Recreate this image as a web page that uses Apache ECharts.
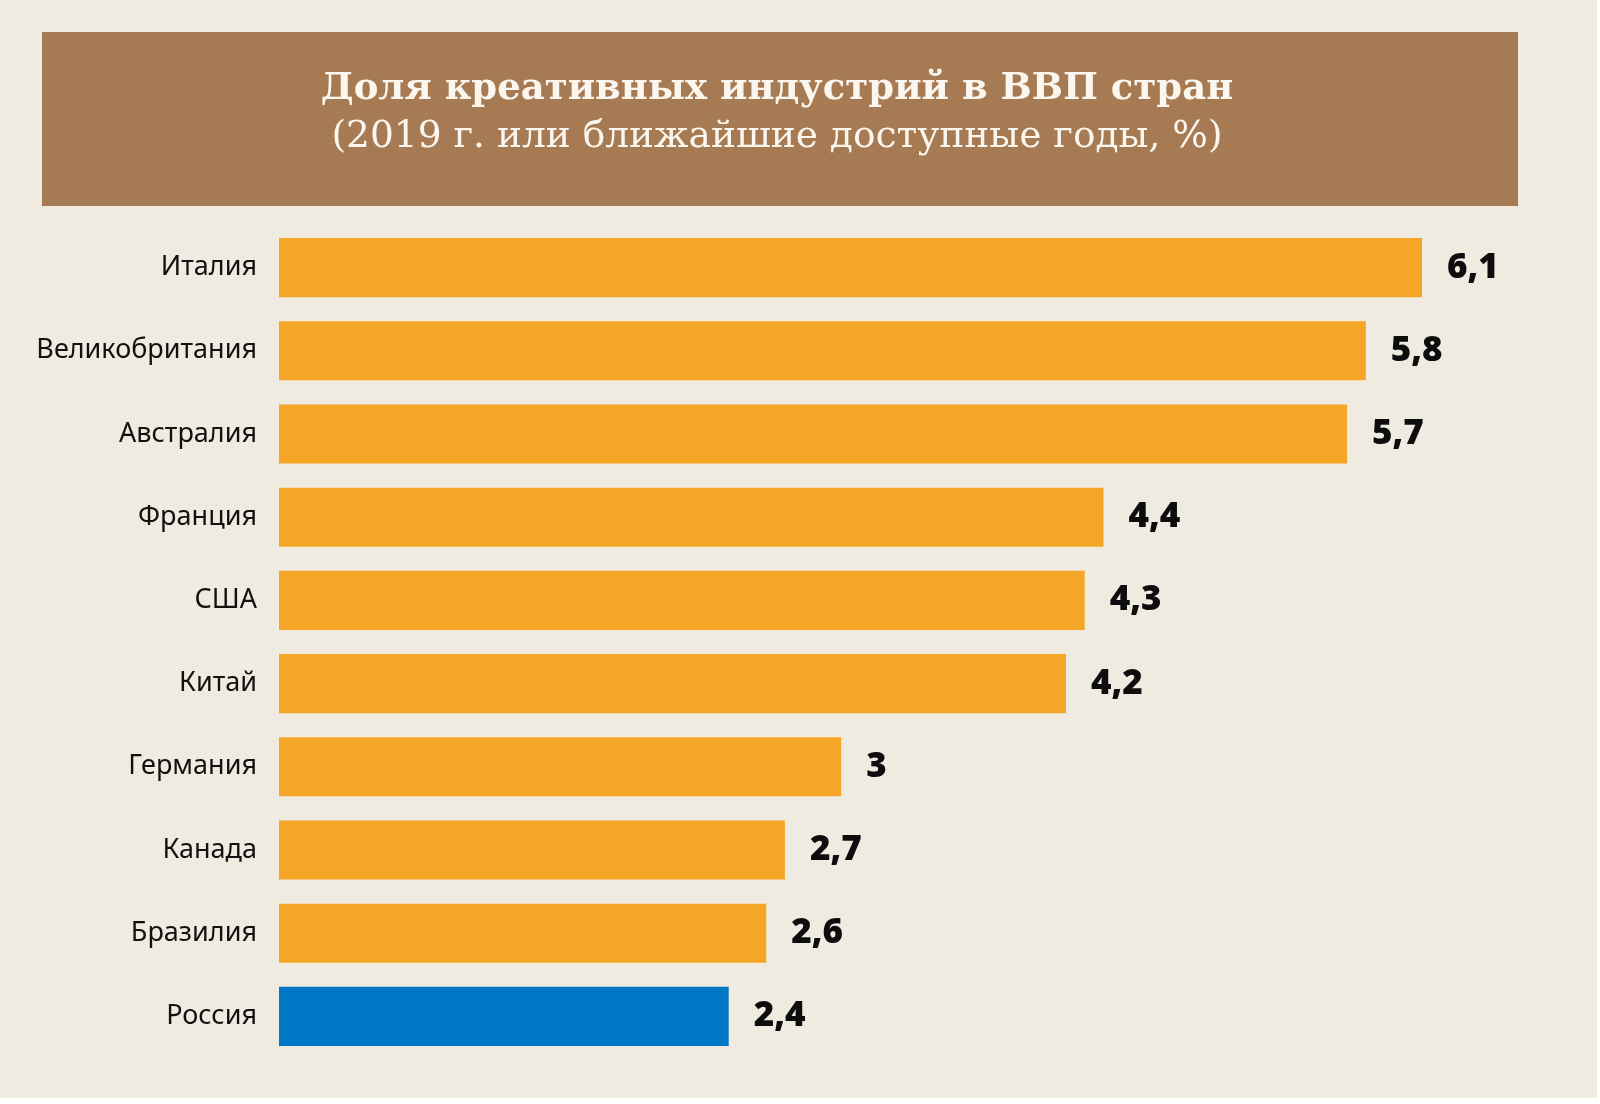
<!DOCTYPE html>
<html>
<head>
<meta charset="utf-8">
<script src="https://cdn.jsdelivr.net/npm/echarts@6/dist/echarts.min.js"></script>
<style>
  html, body { margin: 0; padding: 0; background: #ffffff; }
  #chart { width: 1597px; height: 1098px; background: #efebe0; }
</style>
</head>
<body>
<div id="chart"></div>
<script>
// данные: доля креативных индустрий в ВВП, %
const countries = ['Италия', 'Великобритания', 'Австралия', 'Франция', 'США', 'Китай', 'Германия', 'Канада', 'Бразилия', 'Россия'];
const shares = [6.1, 5.8, 5.7, 4.4, 4.3, 4.2, 3, 2.7, 2.6, 2.4];
const highlight = 'Россия';

const chart = echarts.init(document.getElementById('chart'));

chart.setOption({
    backgroundColor: '#efebe0',
    animation: false,
    graphic: [
        {
            type: 'rect',
            shape: { x: 42, y: 32, width: 1476, height: 174 },
            style: { fill: '#a67a52' },
            z: 0
        }
    ],
    title: {
        text: 'Доля креативных индустрий в ВВП стран',
        subtext: '(2019 г. или ближайшие доступные годы, %)',
        left: 772,
        top: 66,
        textAlign: 'center',
        itemGap: 10,
        textStyle: {
            fontFamily: 'DejaVu Serif',
            fontWeight: 'bold',
            fontSize: 37,
            color: '#fbf6ee'
        },
        subtextStyle: {
            fontFamily: 'DejaVu Serif',
            fontSize: 37.5,
            color: '#fbf6ee'
        }
    },
    grid: {
        left: 279,
        width: 1143,
        top: 226,
        height: 832
    },
    xAxis: {
        type: 'value',
        min: 0,
        max: 6.1,
        show: false
    },
    yAxis: {
        type: 'category',
        inverse: true,
        data: countries,
        axisLine: { show: false },
        axisTick: { show: false },
        axisLabel: {
            margin: 22,
            fontFamily: 'Noto Sans',
            fontSize: 27,
            color: '#111'
        }
    },
    series: [
        {
            type: 'bar',
            barCategoryGap: '29%',
            data: shares.map((v, i) => ({
                value: v,
                itemStyle: { color: countries[i] === highlight ? '#0077c6' : '#f5a626' }
            })),
            label: {
                show: true,
                position: 'right',
                distance: 25,
                fontFamily: 'Noto Sans',
                fontWeight: 900,
                fontSize: 35,
                color: '#0d0d0d',
                formatter: p => String(p.value).replace('.', ',')
            }
        }
    ]
});
</script>
</body>
</html>
